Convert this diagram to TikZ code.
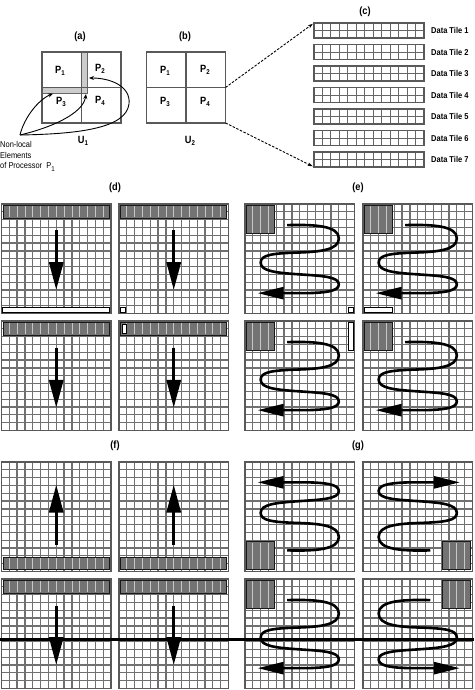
\documentclass[tikz,border=0pt]{standalone}
\usepackage{fontspec}
\setmainfont{Liberation Sans}[FakeStretch=0.88]
\usetikzlibrary{arrows.meta}
\newcommand{\idx}[1]{\raisebox{-0.5ex}{\fontsize{7}{7}\selectfont #1}}
\tikzset{
  gridcells/.style = {draw=black!56, line width=1.3pt, step=1},
  gridframe/.style = {draw=black!65, line width=1.8pt},
  darkblock/.style = {fill=black!55, draw=black!90, line width=0.9pt},
  blockline/.style = {draw=black!22, line width=0.7pt, xstep=1, ystep=100},
  lightslot/.style = {fill=white, draw=black, line width=0.9pt},
  fatarrow/.style = {line width=3.2pt, -{Triangle[length=28pt,width=14pt]}},
  serpent/.style = {line width=2.6pt, -{Triangle[length=26pt,width=12pt]}},
  paneltitle/.style = {font=\bfseries\fontsize{10.5}{10.5}\selectfont},
  proclabel/.style = {font=\bfseries\fontsize{10.5}{10.5}\selectfont},
  procbox/.style = {draw=black!65, line width=1.4pt, minimum width=79pt,
                    minimum height=71pt, inner sep=0pt, outer sep=0pt},
  datatile/.style = {draw=black!65, line width=1.3pt, minimum width=110pt,
                     minimum height=15pt, inner sep=0pt, outer sep=0pt},
  tilecells/.style = {draw=black!60, line width=0.9pt, xstep=8.4615, ystep=7.5},
  tilelabel/.style = {font=\bfseries\fontsize{8.5}{8.5}\selectfont, anchor=west, inner sep=0pt},
  notetext/.style = {font=\fontsize{8.5}{10.5}\selectfont, align=left, anchor=north west, inner sep=0pt},
  pointer/.style = {black, line width=0.9pt, -{Stealth[length=5pt,width=4pt]}},
  dashpointer/.style = {black, line width=0.9pt, dash pattern=on 2.5pt off 1.5pt,
                        shorten >=1.5pt, -{Stealth[length=5pt,width=3.5pt]}}
}

\begin{document}
\begin{tikzpicture}[x=1pt, y=1pt, yscale=-1]
	\def\cell{7.82}
	\def\shadedblock#1#2#3#4{%
		\draw[darkblock] (#1+0.2,#2+0.2) rectangle (#3-0.2,#4-0.2);
		\draw[blockline] (#1+0.5,#2+0.3) grid (#3-0.5,#4-0.3);}
	\def\slotbox#1#2#3#4{\draw[lightslot] (#1+0.18,#2+0.18) rectangle (#3-0.18,#4-0.18);}
	\def\wiggle{(5.4,2.7) .. controls (9,2.6) and (12,2.8) .. (12,4.4)
		.. controls (12,5.9) and (9.5,6.1) .. (7,6.2)
		.. controls (3.5,6.3) and (2,6.5) .. (2,7.5)
		.. controls (2,8.6) and (4,8.8) .. (7,9.0)
		.. controls (10,9.2) and (12,9.3) .. (12,10.3)
		.. controls (12,11.2) and (10,11.35) .. (8,11.4) -- (1.6,11.4)}
	
	\useasboundingbox (0,0) rectangle (474,690);
	
	% Captions
	\node[paneltitle] (capa) at (80,37) {(a)};
	\node[paneltitle] (capb) at (185,37) {(b)};
	\node[paneltitle] (capc) at (365,12) {(c)};
	\node[paneltitle] (capd) at (115,188) {(d)};
	\node[paneltitle] (cape) at (358,188) {(e)};
	\node[paneltitle] (capf) at (115,446) {(f)};
	\node[paneltitle] (capg) at (358,446) {(g)};
	
	% (a) U1 with non-local elements of P1
	\fill[black!20] (81.7,52) rectangle (87.3,93.3);
	\fill[black!20] (42,88.3) rectangle (87.3,93.3);
	\draw[black!60, line width=0.8pt] (87.3,52) -- (87.3,93.3) -- (42,93.3);
	\node[procbox] (Ua) at (81.5,87.5) {};
	\draw[black!65, line width=1.4pt] (Ua.north) -- (Ua.south);
	\draw[black!65, line width=1.4pt] (Ua.west) -- (Ua.east);
	\node[proclabel] (a1) at (60,71) {P\idx{1}};
	\node[proclabel] (a2) at (100,69) {P\idx{2}};
	\node[proclabel] (a3) at (61,102) {P\idx{3}};
	\node[proclabel] (a4) at (100,101) {P\idx{4}};
	\node[proclabel] (u1) at (83,141) {U\idx{1}};
	
	\node[notetext] (note) at (0,141.5) {Non-local\\Elements\\of Processor~~P\idx{1}};
	\coordinate (nlsrc) at (20,135);
	\coordinate (t1) at (53,93.5);
	\coordinate (t2) at (86,94);
	\coordinate (t3) at (89,78);
	\draw[pointer] (nlsrc) .. controls (24,118) and (38,100) .. (t1);
	\draw[pointer] (nlsrc) .. controls (50,128) and (83,114) .. (t2);
	\draw[pointer] (nlsrc) .. controls (80,134) and (126,128) .. (129,104)
		.. controls (131,86) and (110,78) .. (t3);
	
	% (b) U2
	\node[procbox] (Ub) at (186,87.5) {};
	\draw[black!65, line width=1.4pt] (Ub.north) -- (Ub.south);
	\draw[black!65, line width=1.4pt] (Ub.west) -- (Ub.east);
	\node[proclabel] (b1) at (165,71) {P\idx{1}};
	\node[proclabel] (b2) at (205,70) {P\idx{2}};
	\node[proclabel] (b3) at (165,102) {P\idx{3}};
	\node[proclabel] (b4) at (205,102) {P\idx{4}};
	\node[proclabel] (u2) at (190,141) {U\idx{2}};
	
	% (c) Data tiles
	\begin{scope}[shift={(314,23)}] \draw[tilecells] (0,0) grid (110,15); \end{scope}
	\begin{scope}[shift={(314,44.5)}] \draw[tilecells] (0,0) grid (110,15); \end{scope}
	\begin{scope}[shift={(314,66)}] \draw[tilecells] (0,0) grid (110,15); \end{scope}
	\begin{scope}[shift={(314,87.5)}] \draw[tilecells] (0,0) grid (110,15); \end{scope}
	\begin{scope}[shift={(314,109)}] \draw[tilecells] (0,0) grid (110,15); \end{scope}
	\begin{scope}[shift={(314,130.5)}] \draw[tilecells] (0,0) grid (110,15); \end{scope}
	\begin{scope}[shift={(314,152)}] \draw[tilecells] (0,0) grid (110,15); \end{scope}
	\node[datatile] (tile1) at (369,30.5) {};
	\node[datatile] (tile2) at (369,52) {};
	\node[datatile] (tile3) at (369,73.5) {};
	\node[datatile] (tile4) at (369,95) {};
	\node[datatile] (tile5) at (369,116.5) {};
	\node[datatile] (tile6) at (369,138) {};
	\node[datatile] (tile7) at (369,159.5) {};
	\node[tilelabel] (lab1) at (431,30.5) {Data Tile 1};
	\node[tilelabel] (lab2) at (431,52) {Data Tile 2};
	\node[tilelabel] (lab3) at (431,73.5) {Data Tile 3};
	\node[tilelabel] (lab4) at (431,95) {Data Tile 4};
	\node[tilelabel] (lab5) at (431,116.5) {Data Tile 5};
	\node[tilelabel] (lab6) at (431,138) {Data Tile 6};
	\node[tilelabel] (lab7) at (431,159.5) {Data Tile 7};
	\draw[dashpointer] (Ub.east) -- (tile1.north west);
	\draw[dashpointer] (Ub.south east) -- (tile7.south west);
	
	% (d) row sweeps
	\begin{scope}[shift={(1.5,204)}, scale=\cell]
		\draw[gridcells] (0,0) grid (14,14);
		\draw[gridframe] (0,0) rectangle (14,14);
		\shadedblock{0}{0}{14}{2}
		\slotbox{0}{13}{14}{14}
		\draw[fatarrow] (7,3.3) -- (7,11);
	\end{scope}
	\begin{scope}[shift={(119,204)}, scale=\cell]
		\draw[gridcells] (0,0) grid (14,14);
		\draw[gridframe] (0,0) rectangle (14,14);
		\shadedblock{0}{0}{14}{2}
		\slotbox{0}{13}{1}{14}
		\draw[fatarrow] (7,3.3) -- (7,11);
	\end{scope}
	\begin{scope}[shift={(1.5,321)}, scale=\cell]
		\draw[gridcells] (0,0) grid (14,14);
		\draw[gridframe] (0,0) rectangle (14,14);
		\shadedblock{0}{0}{14}{2}
		\draw[fatarrow] (7,3.4) -- (7,11.1);
	\end{scope}
	\begin{scope}[shift={(119,321)}, scale=\cell]
		\draw[gridcells] (0,0) grid (14,14);
		\draw[gridframe] (0,0) rectangle (14,14);
		\shadedblock{0}{0}{14}{2}
		\draw[lightslot] (0.4,0.45) rectangle (0.9,1.6);
		\draw[fatarrow] (7,3.4) -- (7,11.1);
	\end{scope}
	
	% (e) block sweeps
	\begin{scope}[shift={(245,204)}, scale=\cell]
		\draw[gridcells] (0,0) grid (14,14);
		\draw[gridframe] (0,0) rectangle (14,14);
		\shadedblock{0}{0}{4}{4}
		\slotbox{13}{13}{14}{14}
		\draw[serpent] \wiggle;
	\end{scope}
	\begin{scope}[shift={(363,204)}, scale=\cell]
		\draw[gridcells] (0,0) grid (14,14);
		\draw[gridframe] (0,0) rectangle (14,14);
		\shadedblock{0}{0}{4}{4}
		\slotbox{0}{13}{4}{14}
		\draw[serpent] \wiggle;
	\end{scope}
	\begin{scope}[shift={(245,321)}, scale=\cell]
		\draw[gridcells] (0,0) grid (14,14);
		\draw[gridframe] (0,0) rectangle (14,14);
		\shadedblock{0}{0}{4}{4}
		\slotbox{13}{0}{14}{4}
		\draw[serpent] \wiggle;
	\end{scope}
	\begin{scope}[shift={(363,321)}, scale=\cell]
		\draw[gridcells] (0,0) grid (14,14);
		\draw[gridframe] (0,0) rectangle (14,14);
		\shadedblock{0}{0}{4}{4}
		\draw[serpent] \wiggle;
	\end{scope}
	
	% (f) row sweeps, both ways
	\begin{scope}[shift={(1.5,462)}, scale=\cell]
		\draw[gridcells] (0,0) grid (14,14);
		\draw[gridframe] (0,0) rectangle (14,14);
		\shadedblock{0}{12}{14}{14}
		\draw[fatarrow] (7,10.6) -- (7,2.9);
	\end{scope}
	\begin{scope}[shift={(119,462)}, scale=\cell]
		\draw[gridcells] (0,0) grid (14,14);
		\draw[gridframe] (0,0) rectangle (14,14);
		\shadedblock{0}{12}{14}{14}
		\draw[fatarrow] (7,10.6) -- (7,2.9);
	\end{scope}
	\begin{scope}[shift={(1.5,579)}, scale=\cell]
		\draw[gridcells] (0,0) grid (14,14);
		\draw[gridframe] (0,0) rectangle (14,14);
		\shadedblock{0}{0}{14}{2}
		\draw[fatarrow] (7,3.5) -- (7,11);
	\end{scope}
	\begin{scope}[shift={(119,579)}, scale=\cell]
		\draw[gridcells] (0,0) grid (14,14);
		\draw[gridframe] (0,0) rectangle (14,14);
		\shadedblock{0}{0}{14}{2}
		\draw[fatarrow] (7,3.5) -- (7,11);
	\end{scope}
	
	% (g) block sweeps, mirrored
	\begin{scope}[shift={(245,462)}, scale=\cell]
		\draw[gridcells] (0,0) grid (14,14);
		\draw[gridframe] (0,0) rectangle (14,14);
		\shadedblock{0}{10}{4}{14}
		\begin{scope}[shift={(0,14)}, yscale=-1] \draw[serpent] \wiggle; \end{scope}
	\end{scope}
	\begin{scope}[shift={(363,462)}, scale=\cell]
		\draw[gridcells] (0,0) grid (14,14);
		\draw[gridframe] (0,0) rectangle (14,14);
		\shadedblock{10}{10}{14}{14}
		\begin{scope}[shift={(14,14)}, scale=-1] \draw[serpent] \wiggle; \end{scope}
	\end{scope}
	\begin{scope}[shift={(245,579)}, scale=\cell]
		\draw[gridcells] (0,0) grid (14,14);
		\draw[gridframe] (0,0) rectangle (14,14);
		\shadedblock{0}{0}{4}{4}
		\draw[serpent] \wiggle;
	\end{scope}
	\begin{scope}[shift={(363,579)}, scale=\cell]
		\draw[gridcells] (0,0) grid (14,14);
		\draw[gridframe] (0,0) rectangle (14,14);
		\shadedblock{10}{0}{14}{4}
		\begin{scope}[shift={(14,0)}, xscale=-1] \draw[serpent] \wiggle; \end{scope}
	\end{scope}
	
	% Cut line
	\draw[black, line width=3pt] (0,639) -- (474,639);
	
\end{tikzpicture}
\end{document}
